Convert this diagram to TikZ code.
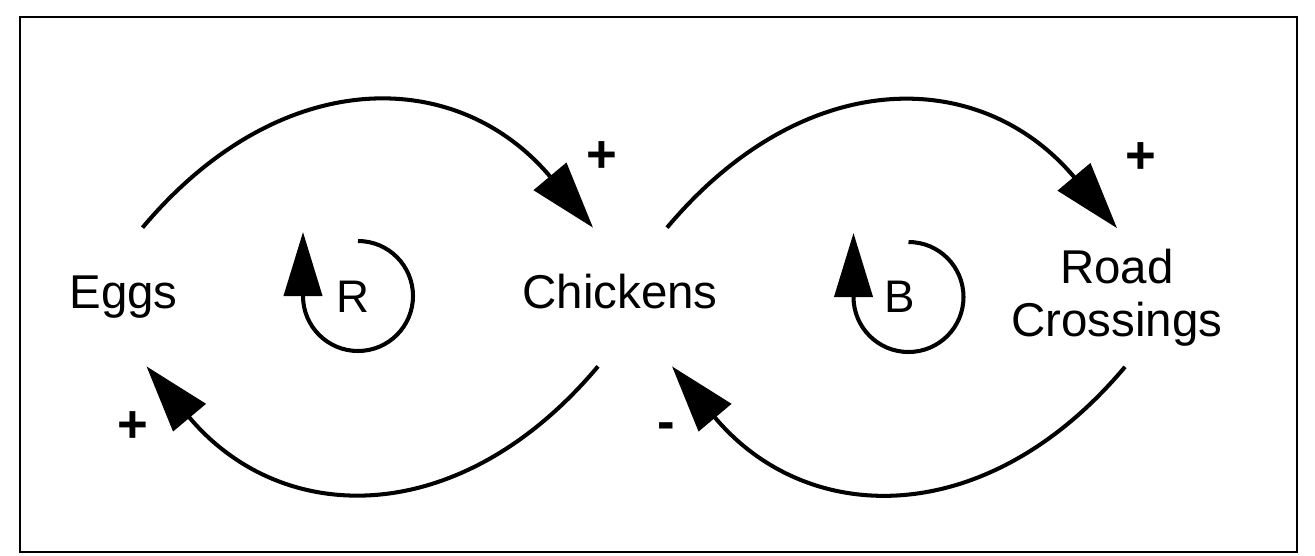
\documentclass[tikz,border=0pt]{standalone}
\usepackage{fontspec}
\setmainfont{Liberation Sans}
\usepackage{tikz}
\usetikzlibrary{arrows.meta}

\begin{document}
\begin{tikzpicture}[
    var/.style={font=\fontsize{27}{30}\selectfont, minimum height=2.76cm, inner sep=0pt},
    oneline/.style={text height=20pt, text depth=6.5pt},
    link/.style={line width=2.3pt, -{Triangle[length=1.34cm, width=0.84cm]}},
    loopsym/.style={line width=2.3pt, -{Triangle[length=1.28cm, width=0.76cm]}},
    loopname/.style={font=\fontsize{26}{30}\selectfont, inner sep=0pt},
    sign/.style={font=\fontsize{30}{34}\selectfont\bfseries, inner sep=0pt}
  ]
  \useasboundingbox (0,0) rectangle (26.3,11.1);
  \draw[line width=1.3pt] (0.4,0.06) rectangle (25.94,10.76);

  % variables
  \node[var, oneline] (eggs) at (2.47,5.16) {Eggs};
  \node[var, oneline] (chickens) at (12.4,5.16) {Chickens};
  \node[var, align=center] (road) at (22.34,5.15) {Road\\Crossings};

  % causal links
  \draw[link] ([xshift=0.38cm]eggs.north) .. controls +(50:4.25) and +(130:4.25) .. ([xshift=-0.54cm]chickens.north);
  \draw[link] ([xshift=-0.44cm]chickens.south) .. controls +(-130:4.25) and +(-50:4.25) .. ([xshift=0.46cm]eggs.south);
  \draw[link] ([xshift=0.94cm]chickens.north) .. controls +(50:4.25) and +(130:4.25) .. (road.north);
  \draw[link] ([xshift=0.16cm]road.south) .. controls +(-130:4.25) and +(-50:4.25) .. ([xshift=1.04cm]chickens.south);

  \node[sign] (p1) at (12.04,7.96) {+};
  \node[sign] (p2) at (22.82,7.94) {+};
  \node[sign] (p3) at (2.66,2.56) {+};
  \node[sign] (m1) at (13.32,2.48) {-};

  % loop markers
  \node[loopname] (rsym) at (7.05,5.16) {R};
  \draw[loopsym] ([shift={(0.11,1.12)}]rsym.center) arc[start angle=90, end angle=-180, radius=1.1] -- ++(0,1.28);
  \node[loopname] (bsym) at (18.0,5.16) {B};
  \draw[loopsym] ([shift={(0.17,1.1)}]bsym.center) arc[start angle=90, end angle=-180, radius=1.1] -- ++(0,1.28);
\end{tikzpicture}
\end{document}
